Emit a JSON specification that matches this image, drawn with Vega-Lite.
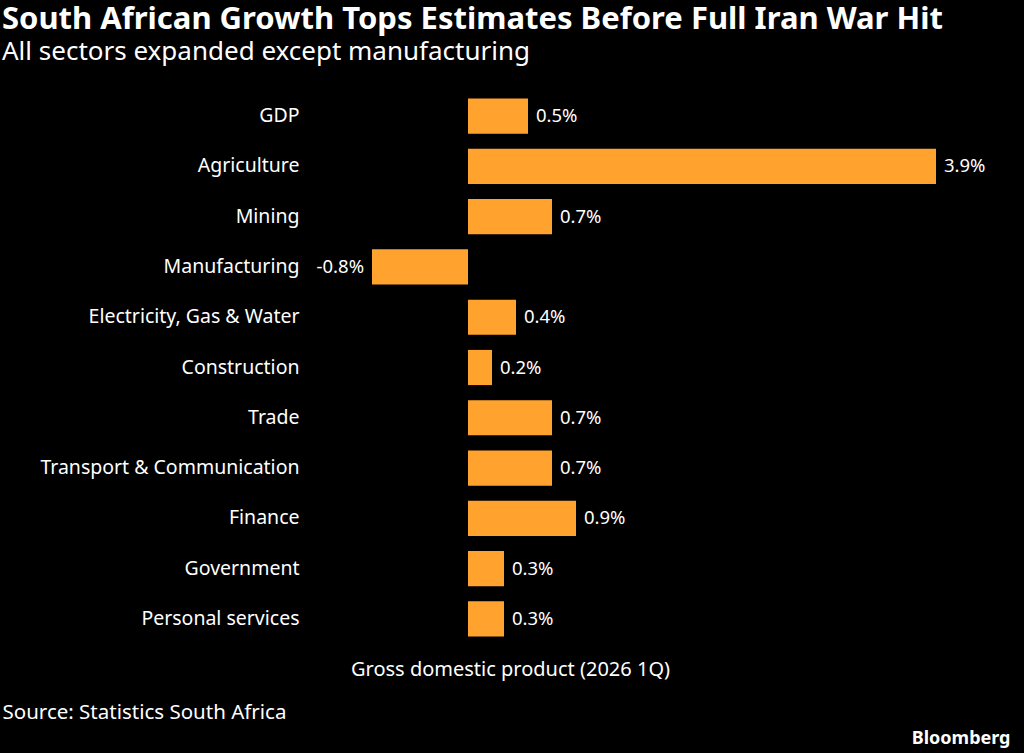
{
  "$schema": "https://vega.github.io/schema/vega-lite/v6.json",
  "width": 636,
  "height": 553,
  "autosize": {"type": "none"},
  "padding": {"left": 300, "top": 91, "right": 88, "bottom": 109},
  "background": "#000000",
  "title": {
    "text": "South African Growth Tops Estimates Before Full Iran War Hit",
    "subtitle": "All sectors expanded except manufacturing",
    "anchor": "start",
    "frame": "group",
    "dx": -298,
    "offset": 25,
    "font": "Noto Sans",
    "fontSize": 31,
    "fontWeight": "bold",
    "color": "#ffffff",
    "subtitleFont": "Noto Sans",
    "subtitleFontSize": 26,
    "subtitleColor": "#ffffff",
    "subtitlePadding": 3
  },
  "data": {
    "values": [
      {"sector": "GDP", "value": 0.5},
      {"sector": "Agriculture", "value": 3.9},
      {"sector": "Mining", "value": 0.7},
      {"sector": "Manufacturing", "value": -0.8},
      {"sector": "Electricity, Gas & Water", "value": 0.4},
      {"sector": "Construction", "value": 0.2},
      {"sector": "Trade", "value": 0.7},
      {"sector": "Transport & Communication", "value": 0.7},
      {"sector": "Finance", "value": 0.9},
      {"sector": "Government", "value": 0.3},
      {"sector": "Personal services", "value": 0.3}
    ]
  },
  "transform": [
    {"calculate": "(datum.value < 0 ? '-' : '') + format(abs(datum.value), '.1f') + '%'", "as": "label"}
  ],
  "encoding": {
    "y": {
      "field": "sector",
      "type": "nominal",
      "sort": null,
      "scale": {"paddingInner": 0.3, "paddingOuter": 0.15},
      "axis": {
        "title": "Source: Statistics South Africa",
        "titleAngle": 0,
        "titleX": -298,
        "titleY": 621,
        "titleAlign": "left",
        "titleBaseline": "middle",
        "titleFont": "Noto Sans",
        "titleFontSize": 20.5,
        "titleFontWeight": "normal",
        "titleColor": "#ffffff",
        "labelFont": "Noto Sans",
        "labelFontSize": 19.5,
        "labelColor": "#ffffff",
        "labelPadding": 1,
        "labelLimit": 400,
        "ticks": false,
        "domain": false,
        "grid": false
      }
    }
  },
  "layer": [
    {
      "mark": {"type": "bar", "color": "#ffa32e"},
      "encoding": {
        "x": {
          "field": "value",
          "type": "quantitative",
          "scale": {"domain": [-1.4, 3.9], "nice": false, "zero": true},
          "axis": {
            "title": "Gross domestic product (2026 1Q)",
            "titleX": 210,
            "titleY": 25,
            "titleAlign": "center",
            "titleBaseline": "middle",
            "titleFont": "Noto Sans",
            "titleFontSize": 20,
            "titleFontWeight": "normal",
            "titleColor": "#ffffff",
            "labels": false,
            "ticks": false,
            "domain": false,
            "grid": false
          }
        }
      }
    },
    {
      "transform": [{"filter": "datum.value >= 0"}],
      "mark": {"type": "text", "align": "left", "baseline": "middle", "dx": 8, "font": "Noto Sans", "fontSize": 18.5, "color": "#ffffff"},
      "encoding": {
        "x": {
          "field": "value",
          "type": "quantitative",
          "axis": {
            "orient": "top",
            "title": "Bloomberg",
            "titleX": 710,
            "titleY": 647,
            "titleAlign": "right",
            "titleBaseline": "middle",
            "titleFont": "Noto Sans",
            "titleFontSize": 18,
            "titleFontWeight": "bold",
            "titleColor": "#ffffff",
            "labels": false,
            "ticks": false,
            "domain": false,
            "grid": false
          }
        },
        "text": {"field": "label"}
      }
    },
    {
      "transform": [{"filter": "datum.value < 0"}],
      "mark": {"type": "text", "align": "right", "baseline": "middle", "dx": -8, "font": "Noto Sans", "fontSize": 18.5, "color": "#ffffff"},
      "encoding": {
        "x": {"field": "value", "type": "quantitative", "axis": null},
        "text": {"field": "label"}
      }
    }
  ],
  "resolve": {"axis": {"x": "independent"}},
  "config": {"view": {"stroke": null}}
}
